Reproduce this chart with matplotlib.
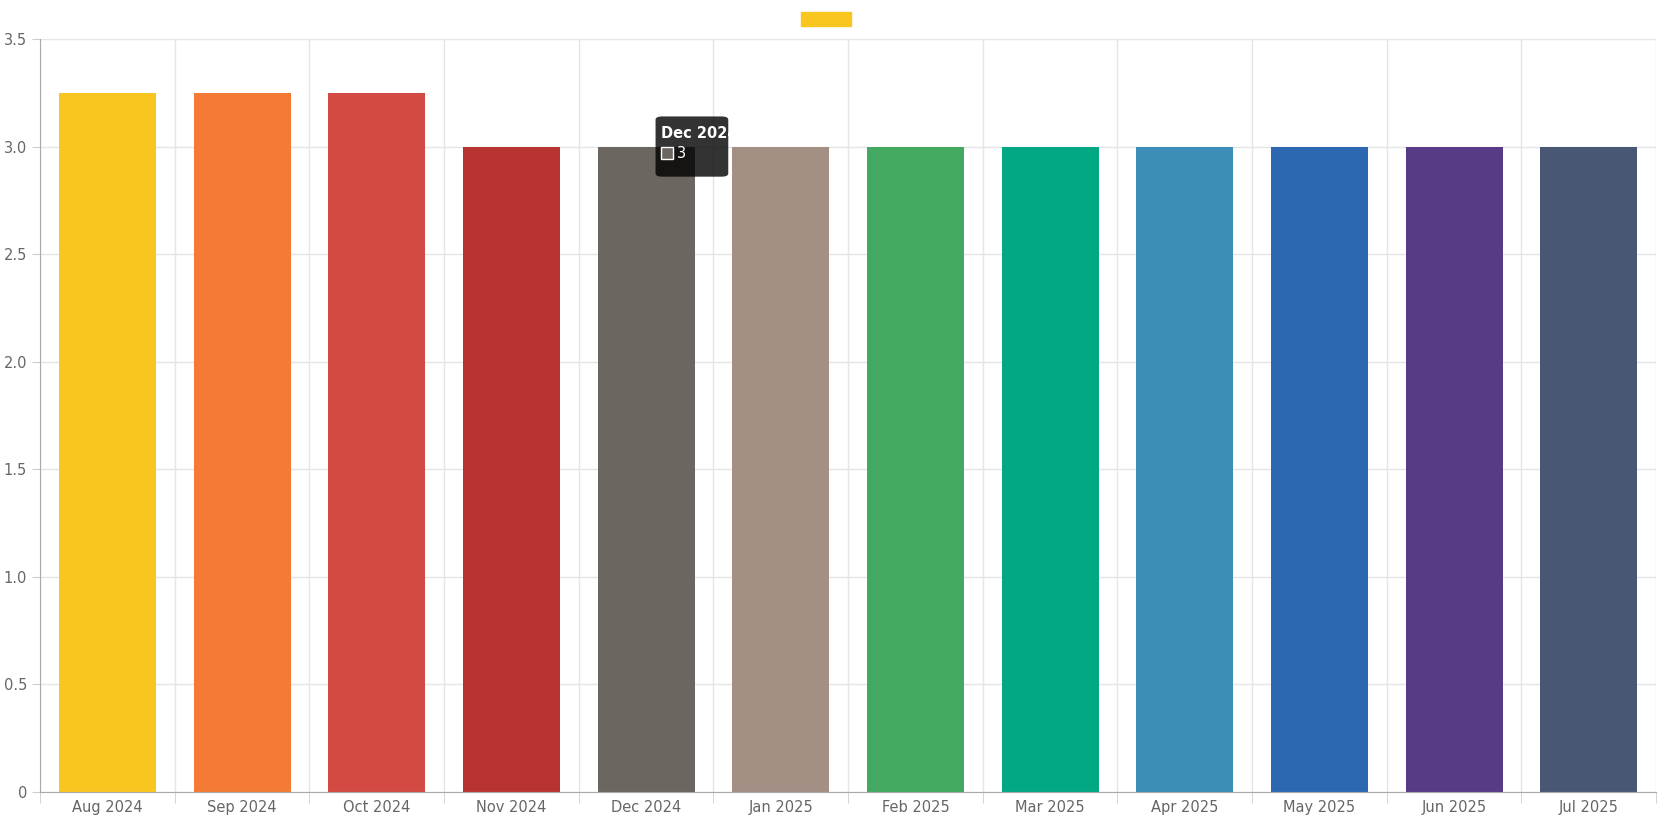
import numpy as np
import matplotlib.pyplot as plt
from matplotlib.patches import Rectangle, FancyBboxPatch

months = ['Aug 2024', 'Sep 2024', 'Oct 2024', 'Nov 2024', 'Dec 2024', 'Jan 2025',
          'Feb 2025', 'Mar 2025', 'Apr 2025', 'May 2025', 'Jun 2025', 'Jul 2025']
values = [3.25, 3.25, 3.25, 3, 3, 3, 3, 3, 3, 3, 3, 3]
colors = ['#f9c51f', '#f57a35', '#d34a43', '#b83230', '#6b665f', '#a38f84',
          '#43a960', '#02a884', '#3d8db9', '#2c68b2', '#583b85', '#485773']

fig = plt.figure(figsize=(16.61, 8.30), dpi=100)
ax = fig.add_axes([0.0242, 0.046, 0.9728, 0.907])
x = np.arange(len(months))
ax.bar(x, values, width=0.72, color=colors, zorder=2)
ax.set_xlim(-0.5, len(months) - 0.5)
ax.set_ylim(0, 3.5)
ax.set_yticks(np.arange(0, 3.51, 0.5))
ax.set_yticklabels(['0', '0.5', '1.0', '1.5', '2.0', '2.5', '3.0', '3.5'])
ax.set_xticks(x)
ax.set_xticklabels(months)
ax.set_xticks(np.arange(-0.5, len(months)), minor=True)
ax.tick_params(axis='x', which='major', length=0, pad=6, labelsize=10.5, labelcolor='#666666')
ax.tick_params(axis='x', which='minor', length=8, color='#cccccc')
ax.tick_params(axis='y', length=6, color='#cccccc', labelsize=10.5, labelcolor='#666666')
ax.grid(True, axis='y', color='#e5e5e5', lw=1, zorder=0)
ax.grid(True, axis='x', which='minor', color='#e5e5e5', lw=1, zorder=0)
for s in ['top', 'right']:
    ax.spines[s].set_visible(False)
for s in ['left', 'bottom']:
    ax.spines[s].set_color('#aaaaaa')

# legend swatch
fig.patches.append(Rectangle((0.4825, 0.969), 0.03, 0.017, transform=fig.transFigure,
                             color=colors[0]))

# tooltip
tip = FancyBboxPatch((4.07, 2.86), 0.54, 0.28, boxstyle='round,pad=0,rounding_size=0.05',
                     fc='black', alpha=0.8, ec='none', zorder=5, mutation_aspect=0.3)
ax.add_patch(tip)
ax.text(4.11, 3.06, 'Dec 2024', color='white', fontweight='bold', fontsize=10.5,
        va='center', zorder=6)
ax.add_patch(Rectangle((4.11, 2.94), 0.09, 0.06, fc=colors[4], ec='white', lw=1, zorder=6))
ax.text(4.23, 2.97, '3', color='white', fontsize=10.5, va='center', zorder=6)

fig.savefig('out.png')
